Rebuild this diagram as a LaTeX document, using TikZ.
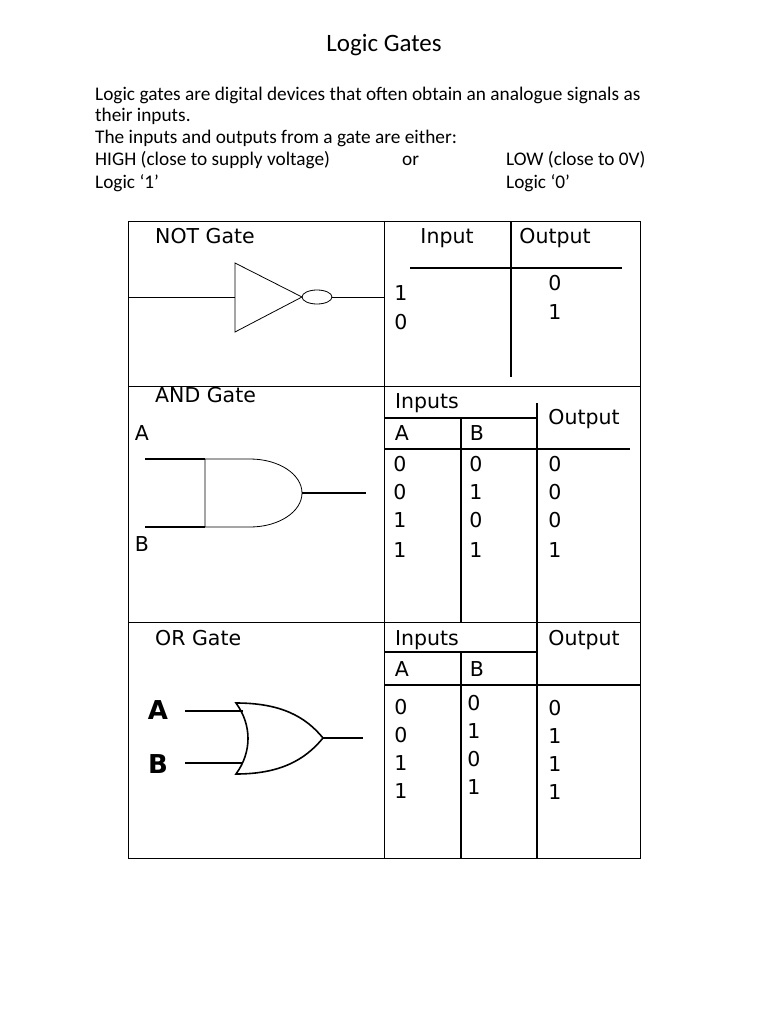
\documentclass[tikz,border=0pt]{standalone}
\usepackage{fontspec}
\setmainfont{Carlito}
\newfontfamily\tabfont{DejaVu Sans}
\begin{document}
\begin{tikzpicture}[x=1pt,y=-1pt,
  body/.style={anchor=west,inner sep=0,text height=1.5ex,text depth=0.4ex,font=\fontsize{19.3}{21}\selectfont},
  tt/.style={inner sep=0,text height=1.5ex,text depth=0.3ex,font=\tabfont\fontsize{20.5}{22}\selectfont},
  thin/.style={line width=0.8pt},
  thick/.style={line width=2.2pt}]
\useasboundingbox (0,0) rectangle (768,1024);
\fill[white] (0,0) rectangle (768,1024);
\node[inner sep=0,font=\fontsize{25}{27}\selectfont] (title) at (384,45) {Logic Gates};
\node[body] (l1) at (95,98) {Logic gates are digital devices that often obtain an analogue signals as};
\node[body] (l2) at (95,119) {their inputs.};
\node[body] (l3) at (95,141) {The inputs and outputs from a gate are either:};
\node[body] (l4) at (95,163) {HIGH (close to supply voltage)};
\node[body] (l4b) at (402,163) {or};
\node[body] (l4c) at (506,163) {LOW (close to 0V)};
\node[body] (l5) at (95,186) {Logic ‘1’};
\node[body] (l5c) at (506,186) {Logic ‘0’};
% table grid
\draw[thin] (128,221) rectangle (640,858);
\draw[thin] (384,221) -- (384,858);
\draw[thin] (128,386) -- (640,386);
\draw[thin] (128,622) -- (640,622);
% NOT row
\node[tt,anchor=west] (nl) at (155,241) {NOT Gate};
\coordinate (ni) at (128,297);
\coordinate (no) at (384,297);
\draw[thin] (ni) -- (235,297);
\draw[thin,fill=white] (235,263) -- (302,297) -- (235,332) -- cycle;
\draw[thin] (317,297) ellipse (15 and 7);
\draw[thin] (332,297) -- (no);
\draw[thick] (410,268) -- (622,268);
\draw[thick] (511,222) -- (511,377);
\node[tt] (nin) at (447,241) {Input};
\node[tt] (nout) at (555,241) {Output};
\node[tt] at (401,298) {1};
\node[tt] at (401,327) {0};
\node[tt] at (555,288) {0};
\node[tt] at (555,317) {1};
% AND row
\node[tt,anchor=west] (al) at (155,400) {AND Gate};
\node[tt] at (142,438) {A};
\node[tt] at (142,549) {B};
\draw[line width=1.6pt] (145,459) -- (205,459);
\draw[line width=1.6pt] (145,527) -- (205,527);
\draw[thin] (205,459) -- (205,527) -- (250,527) arc[start angle=90,end angle=-90,x radius=52,y radius=34] -- cycle;
\draw[line width=1.6pt] (302,493) -- (366,493);
\node[tt] at (427,406) {Inputs};
\node[tt] at (584,422) {Output};
\draw[thick] (384,418) -- (537,418);
\draw[thick] (537,403) -- (537,858);
\draw[thick] (461,418) -- (461,622);
\draw[thick] (384,449) -- (630,449);
\node[tt] at (402,438) {A};
\node[tt] at (477,438) {B};
\foreach \y/\a/\b/\o in {469/0/0/0,497/0/1/0,525/1/0/0,555/1/1/1}{
  \node[tt] at (400,\y) {\a};
  \node[tt] at (476,\y) {\b};
  \node[tt] at (555,\y) {\o};
}
% OR row
\node[tt,anchor=west] (ol) at (155,643) {OR Gate};
\node[inner sep=0,font=\tabfont\bfseries\fontsize{26}{28}\selectfont] at (158,710) {A};
\node[inner sep=0,font=\tabfont\bfseries\fontsize{26}{28}\selectfont] at (158,764) {B};
\draw[line width=1.2pt] (185,711) -- (243,711);
\draw[line width=1.2pt] (185,763) -- (243,763);
\draw[line width=1.6pt] (236,703) .. controls (252,725) and (252,752) .. (236,774)
  .. controls (280,774) and (305,760) .. (323,738)
  .. controls (305,716) and (280,703) .. cycle;
\draw[line width=1.2pt] (323,738) -- (363,738);
\node[tt] at (427,643) {Inputs};
\node[tt] at (584,643) {Output};
\draw[thick] (384,652) -- (537,652);
\draw[thick] (461,652) -- (461,858);
\draw[thick] (384,685) -- (640,685);
\node[tt] at (402,674) {A};
\node[tt] at (477,674) {B};
\foreach \i/\a/\b/\o in {0/0/0/0,1/0/1/1,2/1/0/1,3/1/1/1}{
  \node[tt] at (401,712+28*\i) {\a};
  \node[tt] at (474,708+28*\i) {\b};
  \node[tt] at (555,713+28*\i) {\o};
}
\end{tikzpicture}
\end{document}
